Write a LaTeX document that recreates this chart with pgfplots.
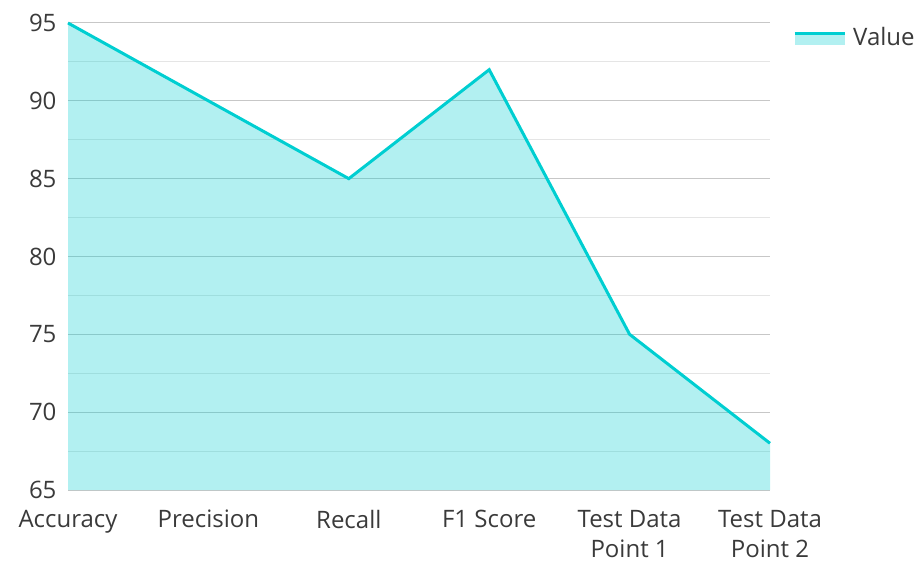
\documentclass[border=0pt]{standalone}
\usepackage{pgfplots}
\pgfplotsset{compat=1.18}
\usepackage{fontspec}
\setmainfont{Open Sans}
\definecolor{lc}{HTML}{00CED1}
\definecolor{tc}{HTML}{3A3A3A}
\begin{document}
\begin{tikzpicture}
\begin{axis}[
  name=ax,
  scale only axis,
  width=702pt, height=467pt,
  xmin=0, xmax=5, ymin=65, ymax=95,
  xtick={0,1,2,3,4,5},
  xticklabels={Accuracy,Precision,Recall,F1 Score,Test Data\\Point 1,Test Data\\Point 2},
  ytick={65,70,75,80,85,90,95},
  minor y tick num=1,
  ymajorgrids, yminorgrids,
  major grid style={color=black!22, line width=1pt},
  minor grid style={color=black!10, line width=1pt},
  axis line style={draw=none},
  major tick length=0pt, minor tick length=0pt,
  tick label style={font=\fontsize{24}{30}\selectfont, text=tc},
  xticklabel style={align=center, inner sep=0pt, yshift=-20pt},
  yticklabel style={xshift=-8pt},
  /pgf/number format/assume math mode=true,
  clip=false,
  legend style={draw=none, at={(1,1)}, anchor=north west, xshift=20pt, yshift=0pt,
    font=\fontsize{24}{28}\selectfont, text=tc, fill=none,
    nodes={inner xsep=7pt}},
  legend cell align=left,
  legend image code/.code={
    \path[fill=lc, fill opacity=0.3, draw=none] (0pt,-8pt) rectangle (50pt,4pt);
    \path[draw=lc, line width=3pt] (0pt,4pt) -- (50pt,4pt);
  },
]
\addplot[draw=none, fill=lc, fill opacity=0.3, forget plot]
  coordinates {(0,95) (1,90) (2,85) (3,92) (4,75) (5,68)} \closedcycle;
\addplot[lc, line width=3pt]
  coordinates {(0,95) (1,90) (2,85) (3,92) (4,75) (5,68)};
\addlegendentry{Value}
\end{axis}
\pgfresetboundingbox
\path ([xshift=-68pt,yshift=-75pt]ax.south west) rectangle ([xshift=150pt,yshift=23pt]ax.north east);
\end{tikzpicture}
\end{document}
